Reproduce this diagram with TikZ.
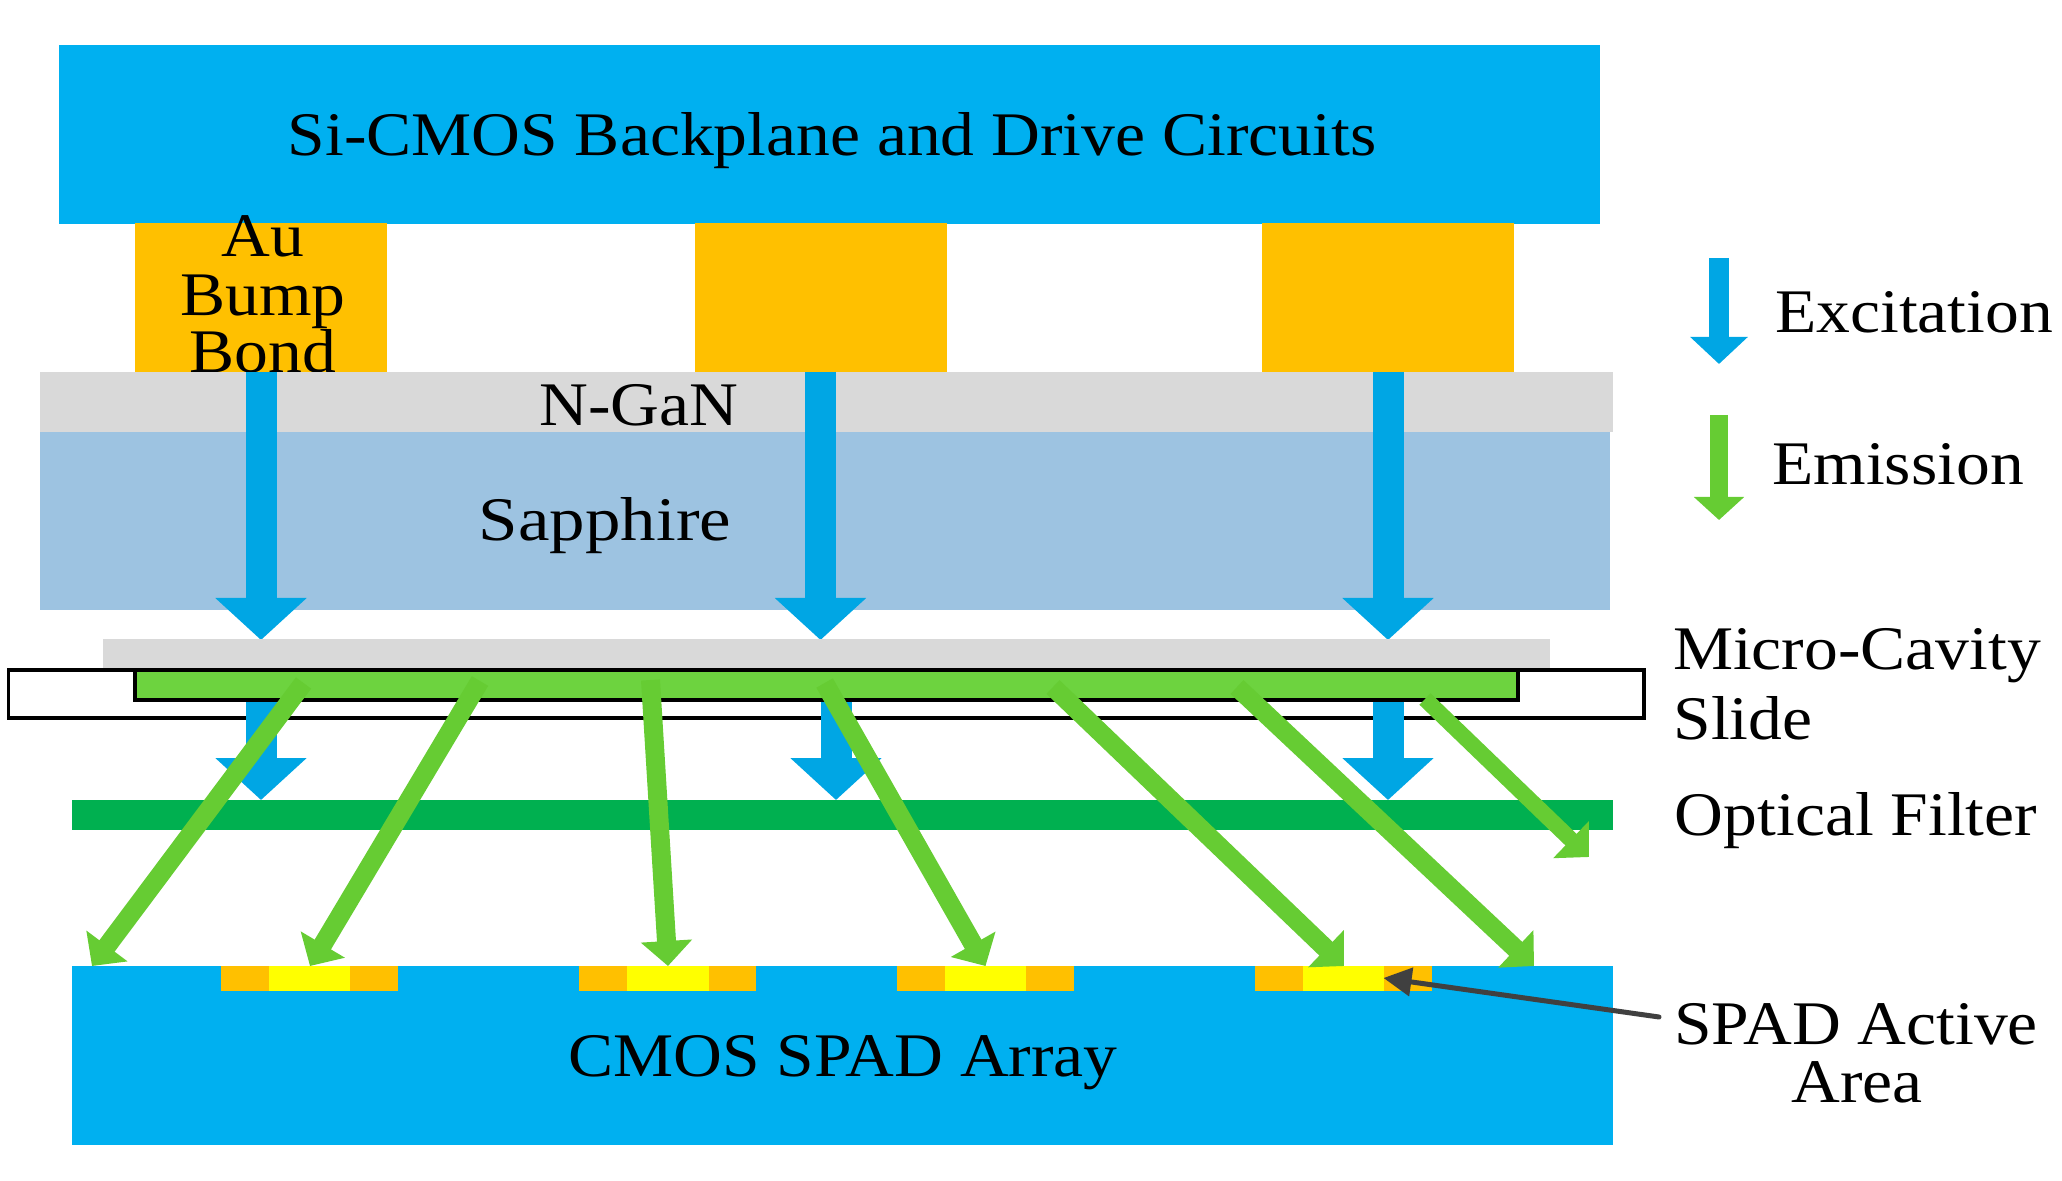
\documentclass[tikz,border=0pt]{standalone}
\usepackage{fontspec}
\setmainfont{Liberation Serif}[FakeStretch=1.09]
\usetikzlibrary{arrows.meta}
\definecolor{cbar}{HTML}{00B0F0}
\definecolor{cbump}{HTML}{FFC000}
\definecolor{cyell}{HTML}{FFFF00}
\definecolor{cgrey}{HTML}{D9D9D9}
\definecolor{csaph}{HTML}{9DC3E1}
\definecolor{cfilt}{HTML}{00B050}
\definecolor{clayer}{HTML}{6DD33F}
\definecolor{cemit}{HTML}{66CC33}
\definecolor{cexc}{HTML}{00A6E4}
\definecolor{cptr}{HTML}{404040}
\tikzset{
  x=0.5pt,y=-0.5pt,
  txt/.style={inner sep=0pt,outer sep=0pt,anchor=base,font=\fontsize{31}{31}\selectfont,text=black},
  exc/.style={draw=cexc,line width=15.5pt,-{Triangle[width=44.5pt,length=21pt]}},
  exs/.style={draw=cexc,line width=10pt,-{Triangle[width=28pt,length=13.5pt]}},
  emi/.style={draw=cemit,line width=9.5pt,-{Triangle[width=25pt,length=12.5pt]}},
  ems/.style={draw=cemit,line width=9pt,-{Triangle[width=24.5pt,length=11.5pt]}},
  ptr/.style={draw=cptr,line width=2.5pt,line cap=round,-{Triangle[width=14pt,length=14pt]}},
  outl/.style={draw=black,line width=1.9pt},
}
\begin{document}
\begin{tikzpicture}
\useasboundingbox (0,0) rectangle (2062,1181);
% top
\fill[cbar] (59,45) rectangle (1600,224);
\fill[cbump] (135,223) rectangle (387,373);
\fill[cbump] (695,223) rectangle (947,373);
\fill[cbump] (1262,223) rectangle (1514,373);
\node[txt] (au) at (263,257) {Au};
\node[txt] (bump) at (263,316) {Bump};
\node[txt] (bond) at (263,373) {Bond};
\fill[cgrey] (40,372) rectangle (1613,432);
\fill[csaph] (40,432) rectangle (1610,610);
\node[txt] (si) at (832,156) {Si-CMOS Backplane and Drive Circuits};
\node[txt] (ngan) at (639,426) {N-GaN};
\node[txt,xscale=1.05] (sapph) at (605,541) {Sapphire};
% upper excitation
\coordinate (xa1) at (261,372); \coordinate (xa2) at (261,640);
\coordinate (xb1) at (820.5,372); \coordinate (xb2) at (820.5,640);
\coordinate (xc1) at (1388,372); \coordinate (xc2) at (1388,640);
\draw[exc] (xa1) -- (xa2);
\draw[exc] (xb1) -- (xb2);
\draw[exc] (xc1) -- (xc2);
% slide
\fill[cgrey] (103,639) rectangle (1550,670);
\draw[outl] (8.5,670) rectangle (1644,718);
\draw[outl,fill=clayer] (135,670) rectangle (1518,700);
% lower excitation
\coordinate (ya1) at (261,702); \coordinate (ya2) at (261,800);
\coordinate (yb1) at (836,702); \coordinate (yb2) at (836,800);
\coordinate (yc1) at (1388,702); \coordinate (yc2) at (1388,800);
\draw[exc] (ya1) -- (ya2);
\draw[exc] (yb1) -- (yb2);
\draw[exc] (yc1) -- (yc2);
% filter
\fill[cfilt] (72,800) rectangle (1613,830);
% SPAD array
\fill[cbar] (72,966) rectangle (1613,1145);
\foreach \a/\b/\c/\d in {221/269/350/398,579/627/709/756,897/945/1026/1074,1255/1303/1384/1432}{
  \fill[cbump] (\a,966) rectangle (\d,991);
  \fill[cyell] (\b,966) rectangle (\c,991);
}
\node[txt] (spad) at (843,1076) {CMOS SPAD Array};
% emission
\foreach \n/\sx/\sy/\tx/\ty in {1/303.5/683/92/966,2/480/681/310/966,3/650.5/680/668/966,4/824.6/683/985.5/966,5/1053/687/1344/966,6/1237/687/1534/966}{
  \coordinate (e\n s) at (\sx,\sy);
  \coordinate (e\n t) at (\tx,\ty);
  \draw[emi] (e\n s) -- (e\n t);
}
\coordinate (e7s) at (1425,699);
\coordinate (e7t) at (1589,857);
\draw[emi,line width=8pt] (e7s) -- (e7t);
% legend
\coordinate (lx1) at (1719,258); \coordinate (lx2) at (1719,364);
\draw[exs] (lx1) -- (lx2);
\coordinate (lm1) at (1719,415); \coordinate (lm2) at (1719,520);
\draw[ems] (lm1) -- (lm2);
\node[txt] (exl) at (1914,333) {Excitation};
\node[txt] (eml) at (1898,485) {Emission};
\node[txt] (mc) at (1857,669) {Micro-Cavity};
\node[txt] (sl) at (1743,740) {Slide};
\node[txt] (of) at (1856,835) {Optical Filter};
\node[txt] (sa) at (1856,1044) {SPAD Active};
\node[txt] (ar) at (1857,1102) {Area};
\coordinate (ps) at (1659,1017);
\coordinate (pe) at (1383.5,978);
\draw[ptr] (ps) -- (pe);
\end{tikzpicture}
\end{document}
